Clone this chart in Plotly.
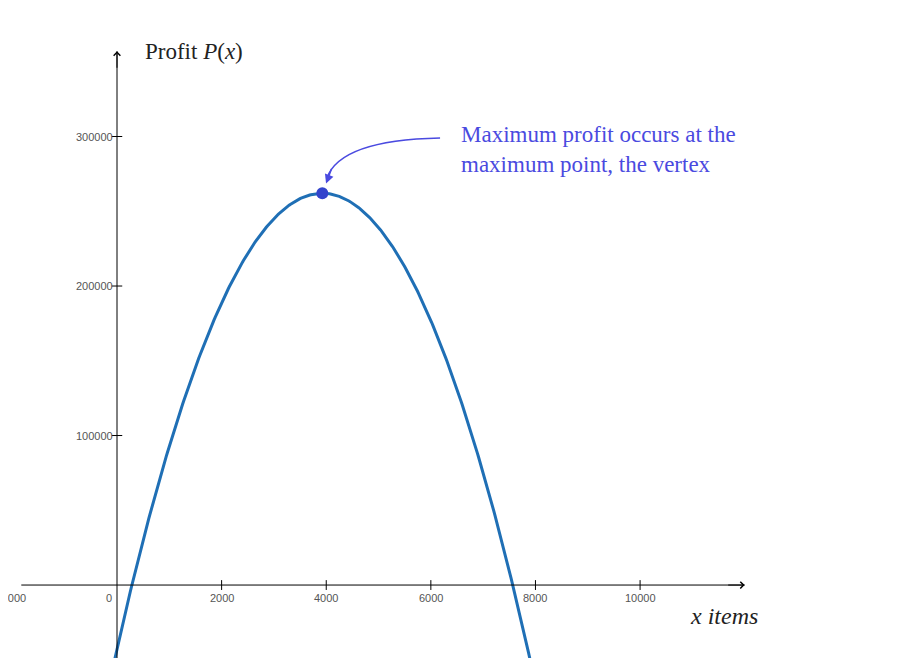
import numpy as np
import plotly.graph_objects as go

# quadratic: vertex and leading coefficient
vertex_x = 3925
vertex_y = 262000
lead_a = -0.01977
x_ticks = [-2000, 0, 2000, 4000, 6000, 8000, 10000]
x_tick_labels = ["-2000", "0", "2000", "4000", "6000", "8000", "10000"]
y_ticks = [100000, 200000, 300000]
y_tick_labels = ["100000", "200000", "300000"]

xs = np.linspace(-100, 8200, 400)
ys = lead_a * (xs - vertex_x) ** 2 + vertex_y

fig = go.Figure()
fig.add_trace(go.Scatter(x=xs, y=ys, mode="lines", line=dict(color="#1f6fb5", width=3), hoverinfo="skip"))
fig.add_trace(go.Scatter(x=[vertex_x], y=[vertex_y], mode="markers", marker=dict(color="#3344cc", size=12)))

shapes = []
shapes.append(dict(type="line", x0=-1830, x1=12000, y0=0, y1=0, line=dict(color="black", width=1)))
shapes.append(dict(type="line", x0=0, x1=0, y0=-60000, y1=357000, line=dict(color="black", width=1)))
for t in x_ticks:
    if t not in (0, -2000):
        shapes.append(dict(type="line", x0=t, x1=t, y0=-3300, y1=3300, line=dict(color="black", width=1)))
for t in y_ticks:
    shapes.append(dict(type="line", x0=-100, x1=100, y0=t, y1=t, line=dict(color="black", width=1)))
shapes.append(dict(type="path", path="M 6176 299000 Q 4264 297700 4010 272000",
                   line=dict(color="#4a4ae0", width=1.5)))

ann = []
for t, lab in zip(x_ticks, x_tick_labels):
    ann.append(dict(x=t, y=-3500, text=lab, showarrow=False, yanchor="top",
                    xanchor="center" if t != 0 else "right", xshift=0 if t != 0 else -3,
                    font=dict(family="Arial", size=11, color="#555")))
for t, lab in zip(y_ticks, y_tick_labels):
    ann.append(dict(x=0, y=t, text=lab, showarrow=False, xanchor="right", xshift=-2,
                    font=dict(family="Arial", size=11, color="#555")))
ann.append(dict(x=12000, y=0, ax=-18, ay=0, showarrow=True, arrowhead=4, arrowsize=1.3, arrowwidth=1, arrowcolor="black", text=""))
ann.append(dict(x=0, y=357000, ax=0, ay=18, showarrow=True, arrowhead=4, arrowsize=1.3, arrowwidth=1, arrowcolor="black", text=""))
ann.append(dict(x=3996, y=268500, ax=6, ay=-16, showarrow=True, arrowhead=2, arrowsize=1.2, arrowwidth=1.5, arrowcolor="#4a4ae0", text=""))
ann.append(dict(x=500, y=357000, text="Profit <i>P</i>(<i>x</i>)", showarrow=False, xanchor="left",
                font=dict(family="Liberation Serif", size=23, color="#222")))
ann.append(dict(x=11600, y=-20500, text="<i>x items</i>", showarrow=False, xanchor="center",
                font=dict(family="Liberation Serif", size=24, color="#222")))
ann.append(dict(x=6530, y=291000, text="Maximum profit occurs at the<br>maximum point, the vertex", showarrow=False,
                xanchor="left", align="left", font=dict(family="Liberation Serif", size=23, color="#4a4ae0")))

fig.update_layout(width=899, height=658, margin=dict(l=0, r=0, t=0, b=0),
                  plot_bgcolor="white", paper_bgcolor="white", showlegend=False,
                  shapes=shapes, annotations=ann,
                  xaxis=dict(range=[-2084, 15103], visible=False),
                  yaxis=dict(range=[-54150, 385950], visible=False))
fig.write_html("out.html")
